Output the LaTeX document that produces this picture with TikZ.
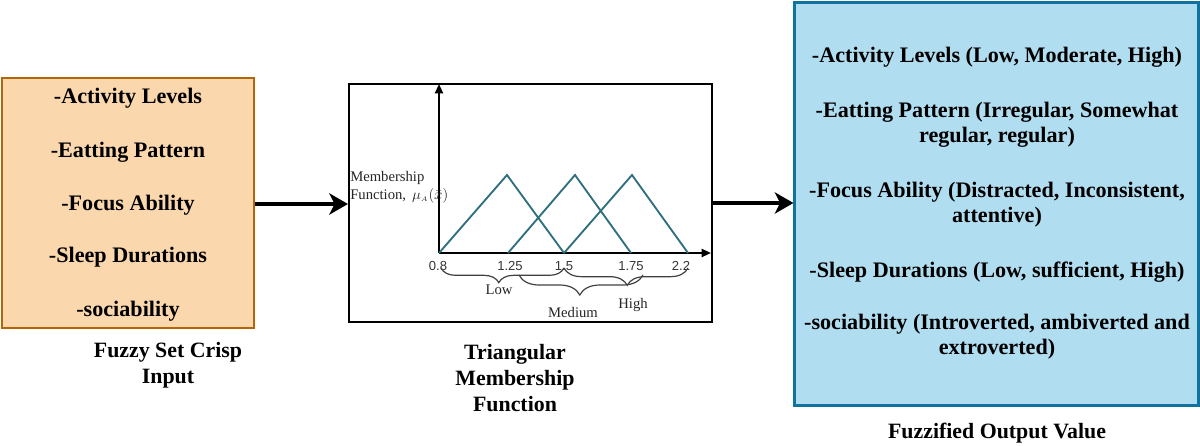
\documentclass[tikz,border=0pt]{standalone}
\usepackage{fontspec}
\setmainfont{Liberation Serif}
\newfontfamily\ticksans{Liberation Sans}
\usetikzlibrary{arrows.meta,decorations.pathreplacing}
\definecolor{peachfill}{HTML}{FAD7AC}
\definecolor{peachline}{HTML}{B46504}
\definecolor{bluefill}{HTML}{B1DDF0}
\definecolor{blueline}{HTML}{10739E}
\definecolor{tealline}{HTML}{2F6F7E}
\tikzset{
  boxtxt/.style={font=\fontsize{16.6}{18.75}\selectfont\bfseries, align=center, inner sep=0pt},
  captxt/.style={font=\fontsize{16.4}{19.5}\selectfont\bfseries, align=center, inner sep=0pt},
  bigarrow/.style={line width=2.3pt, -{Stealth[length=14pt,width=16pt,inset=4pt]}},
  axisline/.style={line width=1.5pt, -{Triangle[length=7pt,width=6pt]}},
  tri/.style={tealline, line width=1.4pt, line join=miter},
  tick/.style={font=\ticksans\fontsize{9.8}{11}\selectfont, inner sep=0pt, text=black!80},
  lbl/.style={font=\fontsize{11}{13.5}\selectfont, inner sep=0pt, text=black!85},
  bracestyle/.style={decorate, line width=0.9pt, black!75}
}
\begin{document}
\begin{tikzpicture}[x=0.75pt,y=-0.75pt]
\useasboundingbox (0,0) rectangle (1200,446);
% left box
\node[draw=peachline, fill=peachfill, line width=1.6pt, minimum width=252*0.75pt, minimum height=250*0.75pt, inner sep=0pt] (inbox) at (128,203) {};
\node[boxtxt] (i1) at (128,98) {-Activity Levels};
\node[boxtxt] (i2) at (128,152) {-Eatting Pattern};
\node[boxtxt] (i3) at (128,205) {-Focus Ability};
\node[boxtxt] (i4) at (128,257) {-Sleep Durations};
\node[boxtxt] (i5) at (128,311) {-sociability};
\node[captxt] (incap) at (168,365) {Fuzzy Set Crisp\\Input};
% middle box
\node[draw=black, line width=1.6pt, minimum width=363*0.75pt, minimum height=238*0.75pt, inner sep=0pt] (mbox) at (530.5,203) {};
\node[captxt] (mcap) at (515,378) {Triangular\\Membership\\Function};
% axes
\coordinate (o) at (439,253);
\coordinate (ytip) at (439,84);
\coordinate (xtip) at (711,253);
\draw[axisline] (o) -- (ytip);
\draw[axisline] (o) -- (xtip);
% triangles
\coordinate (a1) at (439,253); \coordinate (p1) at (507,175); \coordinate (b1) at (564,253);
\coordinate (a2) at (508,253); \coordinate (p2) at (575,175); \coordinate (b2) at (631,253);
\coordinate (a3) at (564,253); \coordinate (p3) at (632,175); \coordinate (b3) at (688,253);
\draw[tri] (a1) -- (p1) -- (b1);
\draw[tri] (a2) -- (p2) -- (b2);
\draw[tri] (a3) -- (p3) -- (b3);
% membership label
\node[lbl, anchor=west, align=left] (mlab) at (350,187) {Membership\\Function, \,$\mu_{\scriptscriptstyle A}(\bar{x})$};
% ticks
\node[tick] (t1) at (438,266) {0.8};
\node[tick] (t2) at (510,266) {1.25};
\node[tick] (t3) at (564,266) {1.5};
\node[tick] (t4) at (631,266) {1.75};
\node[tick] (t5) at (681,266) {2.2};
% braces
\coordinate (lowA) at (441,268); \coordinate (lowB) at (564,268);
\coordinate (medA) at (519,275); \coordinate (medB) at (643,275);
\coordinate (hiA) at (564,268); \coordinate (hiB) at (688,268);
\draw[bracestyle, decoration={brace, mirror, amplitude=11pt, aspect=0.47}] (lowA) -- (lowB);
\draw[bracestyle, decoration={brace, mirror, amplitude=15pt, aspect=0.49}] (medA) -- (medB);
\draw[bracestyle, decoration={brace, mirror, amplitude=13pt, aspect=0.51}] (hiA) -- (hiB);
\node[lbl] (lowlab) at (499,290) {Low};
\node[lbl] (medlab) at (573,312) {Medium};
\node[lbl] (hilab) at (633,305) {High};
% right box
\node[draw=blueline, fill=bluefill, line width=1.6pt, minimum width=404*0.75pt, minimum height=403*0.75pt, inner sep=0pt] (outbox) at (996.5,204) {};
\node[boxtxt] (o1) at (997,57) {-Activity Levels (Low, Moderate, High)};
\node[boxtxt] (o2) at (997,124.5) {-Eatting Pattern (Irregular, Somewhat\\regular, regular)};
\node[boxtxt] (o3) at (997,205) {-Focus Ability (Distracted, Inconsistent,\\attentive)};
\node[boxtxt] (o4) at (997,272) {-Sleep Durations (Low, sufficient, High)};
\node[boxtxt] (o5) at (997,336.5) {-sociability (Introverted, ambiverted and\\extroverted)};
\node[captxt] (ocap) at (997,433) {Fuzzified Output Value};
% connectors
\draw[bigarrow] (inbox.east |- 0,204) -- (mbox.west |- 0,204);
\draw[bigarrow] (mbox.east |- 0,203) -- (outbox.west |- 0,203);
\end{tikzpicture}
\end{document}
